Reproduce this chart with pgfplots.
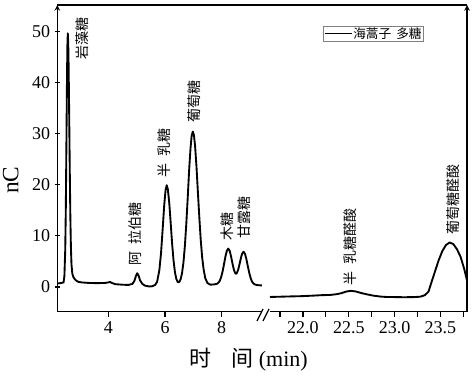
\documentclass[border=0pt]{standalone}
\usepackage{fontspec}
\setmainfont{Liberation Serif}
\newfontfamily\cjk{Noto Sans CJK SC}
\usepackage{pgfplots}
\pgfplotsset{compat=1.18}

\pgfplotsset{
  brk/.style={
    scale only axis, anchor=south west,
    height=230pt, ymin=-4.83, ymax=55.15,
    separate axis lines,
    axis line style={-, line width=0.9pt},
    every outer x axis line/.append style={-},
    every outer y axis line/.append style={-},
    tick align=outside, major tick length=3.8pt, minor tick length=3.8pt,
    tick style={black, line width=0.9pt},
    /pgf/number format/assume math mode=true,
    tick label style={font=\fontsize{13.5}{15}\selectfont},
    clip=false,
  },
}
\tikzset{lab/.style={font=\cjk\fontsize{10.5}{11}\selectfont, rotate=90, anchor=center, inner sep=0pt}}

\begin{document}
\begin{tikzpicture}
\useasboundingbox (0,0) rectangle (355.5pt,285.75pt);
\begin{axis}[brk, name=L,
  at={(42.98pt,51.98pt)}, width=153.5pt,
  xmin=2.2, xmax=9.42,
  axis x line=box, axis y line=left,
  xtick pos=bottom, ytick pos=left,
  xtick={4,6,8}, ytick={0,10,20,30,40,50},
  ylabel={nC}, ylabel style={at={(axis description cs:-0.228,0.429)}, anchor=center, font=\fontsize{17.5}{19}\selectfont},
  xlabel={{\cjk 时\hspace{0.9em}间} (min)}, xlabel style={at={(axis description cs:0.935,-0.157)}, anchor=center, font=\fontsize{16.5}{18}\selectfont},
]
\addplot[black, line width=1.4pt, line join=round] coordinates {
(2.20,0.7) (2.30,0.75) (2.35,0.8) (2.42,0.9) (2.45,2.1) (2.48,7.3) (2.50,15.3) (2.52,27.2) (2.54,39.9) (2.555,47.1) (2.57,49.6)
(2.585,47.9) (2.60,43.0) (2.62,33.3) (2.64,22.7) (2.66,13.8) (2.68,7.8) (2.70,4.4) (2.73,2.6) (2.77,1.9) (2.82,1.5) (2.88,1.2) (2.95,1.0)
(3.05,0.9) (3.30,0.8) (3.60,0.75) (3.90,0.8) (4.00,0.9) (4.06,1.0) (4.12,0.8) (4.25,0.55) (4.50,0.45) (4.70,0.4)
(4.85,0.6) (4.92,1.2) (4.97,2.1) (5.02,2.7) (5.07,2.2) (5.12,1.3) (5.20,0.6) (5.30,0.25) (5.45,0.1)
(5.55,0.15) (5.65,0.4) (5.72,1.0) (5.80,3.3) (5.86,6.7) (5.92,11.6) (5.97,15.9) (6.02,19.0) (6.06,19.9)
(6.10,19.1) (6.15,16.4) (6.20,12.5) (6.25,8.5) (6.30,5.2) (6.35,2.9) (6.40,1.55) (6.45,0.96) (6.50,0.96)
(6.55,1.5) (6.60,2.7) (6.65,4.8) (6.70,8.0) (6.75,12.3) (6.80,17.4) (6.85,22.8) (6.90,27.2) (6.94,29.6) (6.98,30.4)
(7.02,29.7) (7.06,27.6) (7.11,23.5) (7.16,18.5) (7.21,13.6) (7.26,9.2) (7.31,5.8) (7.36,3.5) (7.42,1.7) (7.50,0.77) (7.60,0.45)
(7.73,0.51) (7.83,0.62) (7.88,0.81) (7.93,1.2) (7.98,1.92) (8.03,3.02) (8.08,4.44) (8.13,5.93) (8.18,7.07) (8.23,7.5)
(8.28,7.08) (8.33,5.98) (8.38,4.57) (8.43,3.36) (8.48,2.67) (8.50,2.59) (8.53,2.67) (8.58,3.36) (8.63,4.5) (8.68,5.74) (8.72,6.52) (8.77,6.9)
(8.82,6.5) (8.87,5.46) (8.92,4.1) (8.97,2.8) (9.02,1.75) (9.07,1.04) (9.12,0.68) (9.18,0.47) (9.25,0.38) (9.30,0.35) (9.42,0.3)
};
\node[lab] at (axis cs:3.07,48.6) {岩藻糖};
\node[lab] at (axis cs:4.94,10.4) {阿\hspace{0.5em}拉伯糖};
\node[lab] at (axis cs:5.98,26.2) {半\hspace{0.5em}乳糖};
\node[lab] at (axis cs:7.03,36.2) {葡萄糖};
\node[lab] at (axis cs:8.20,11.8) {木糖};
\node[lab] at (axis cs:8.80,13.5) {甘露糖};
\end{axis}

\begin{axis}[brk, name=R,
  at={(202.5pt,51.98pt)}, width=147.75pt,
  xmin=21.64, xmax=23.79,
  axis x line=box, axis y line=right,
  xtick pos=bottom, ytick=\empty,
  xtick={22,22.5,23,23.5},
  minor xtick={21.75,22.25,22.75,23.25,23.75},
  xticklabel style={/pgf/number format/.cd, fixed, fixed zerofill, precision=1},
  legend style={at={(rel axis cs:0.269,0.93)}, anchor=north west, draw=gray, line width=0.4pt,
    inner xsep=1pt, inner ysep=0pt, font=\cjk\fontsize{9.5}{10}\selectfont,
    nodes={inner sep=0.5pt}},
  legend cell align=left,
  legend image code/.code={\draw[black, line width=1pt] (0pt,0pt) -- (20pt,0pt);},
]
\addplot[black, line width=1.4pt, line join=round] coordinates {
(21.64,-1.95) (21.75,-1.9) (21.85,-1.85) (21.97,-1.8) (22.10,-1.7) (22.20,-1.6) (22.30,-1.55) (22.37,-1.4) (22.42,-1.2) (22.47,-0.9) (22.52,-0.75)
(22.57,-0.85) (22.63,-1.15) (22.70,-1.45) (22.77,-1.7) (22.85,-1.88) (22.91,-1.95) (23.00,-1.97) (23.10,-2.0) (23.20,-1.98) (23.28,-1.9)
(23.33,-1.6) (23.37,-0.9) (23.40,0.8) (23.44,3.0) (23.48,5.2) (23.52,7.0) (23.56,8.2) (23.60,8.7) (23.64,8.4) (23.68,7.4) (23.72,5.9) (23.76,3.5) (23.79,1.3)
};
\addlegendentry{海蒿子\hspace{0.4em}多糖}
\node[lab] at (axis cs:22.52,7.8) {半\hspace{0.5em}乳糖醛酸};
\node[lab] at (axis cs:23.64,17.2) {葡萄糖醛酸};
\end{axis}

\draw[line width=0.9pt] (L.north east) -- (R.north west);
\draw[line width=0.9pt] (192.75pt,45pt) -- (197.25pt,54pt);
\draw[line width=0.9pt] (197.25pt,45pt) -- (201.75pt,54pt);
\end{tikzpicture}
\end{document}
